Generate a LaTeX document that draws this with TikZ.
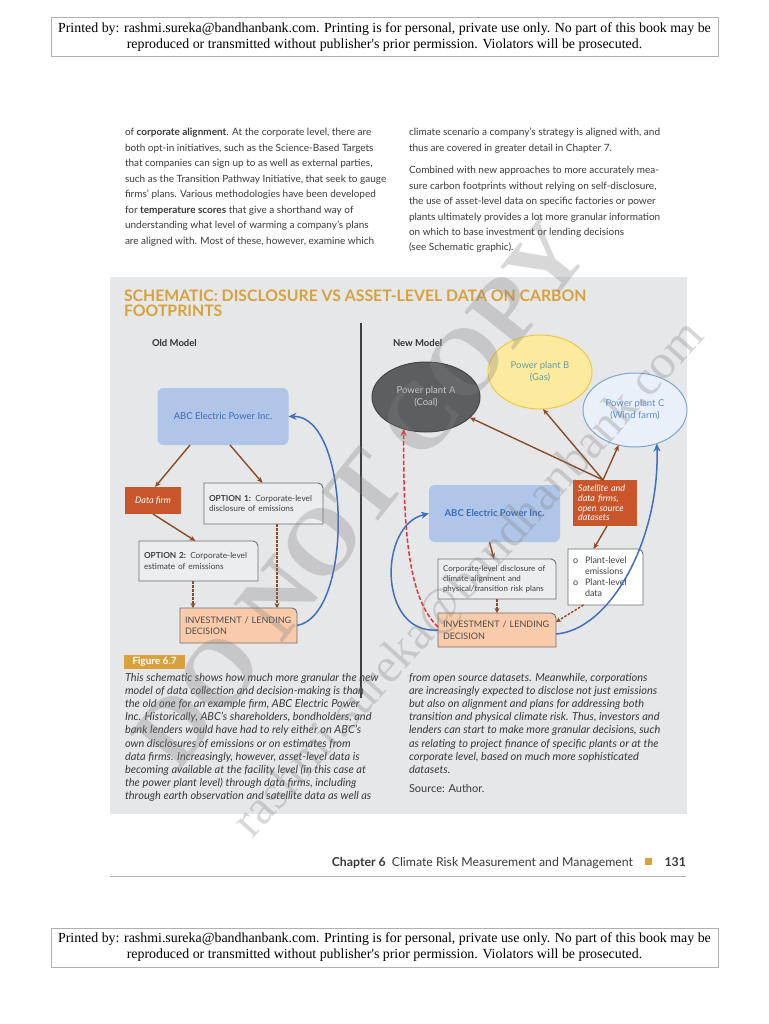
\documentclass[tikz,border=0pt]{standalone}
\usepackage{fontspec}
\setmainfont{Lato}
\newfontfamily\timesfont{Liberation Serif}
\usetikzlibrary{arrows.meta,shapes.geometric,calc}
\definecolor{panel}{HTML}{E6E7E9}
\definecolor{gold}{HTML}{D9A13B}
\definecolor{abcfill}{HTML}{AFC6E9}
\definecolor{abctext}{HTML}{3D6BB3}
\definecolor{arrbrown}{HTML}{8C4A26}
\definecolor{orangebox}{HTML}{C9562B}
\definecolor{peach}{HTML}{F9CBAA}
\definecolor{cardedge}{HTML}{6D6E70}
\definecolor{cardfill}{HTML}{ECEDEF}
\definecolor{coal}{HTML}{5D5E60}
\definecolor{coaledge}{HTML}{444547}
\definecolor{coaltext}{HTML}{C9C9C9}
\definecolor{gasfill}{HTML}{FCEB9E}
\definecolor{gasedge}{HTML}{EDC94A}
\definecolor{gastext}{HTML}{6B9C9A}
\definecolor{windfill}{HTML}{E9F0FA}
\definecolor{windedge}{HTML}{7FA4D8}
\definecolor{windtext}{HTML}{5B8FD3}
\definecolor{curveblue}{HTML}{3F6FBF}
\definecolor{reddash}{HTML}{E8343A}
\definecolor{bodytext}{HTML}{3A3A3A}
\definecolor{hdredge}{HTML}{B0B0B0}
\pgfdeclarelayer{bg}
\pgfdeclarelayer{cards}
\pgfsetlayers{bg,cards,main}
\newcommand\cardoutline[2]{%
  \begin{pgfonlayer}{cards}
    \filldraw[fill=#2,draw=cardedge,line width=0.9pt]
      (#1.south west) -- (#1.north west) -- ([xshift=-5pt]#1.north east)
      arc[start angle=90,end angle=0,radius=5pt] -- (#1.south east) -- cycle;
  \end{pgfonlayer}}
\begin{document}
\begin{tikzpicture}[x=1pt,y=-1pt,
 every node/.style={inner sep=0pt,outer sep=0pt},
 hdr/.style={draw=hdredge,line width=0.8pt,minimum width=667pt,minimum height=39pt,align=center,font=\timesfont\fontsize{13.9}{16}\selectfont,text=black},
 bodyline/.style={anchor=base west,font=\fontsize{10}{12}\selectfont,text=bodytext},
 capline/.style={anchor=base west,font=\fontsize{11}{12}\selectfont\itshape,text=bodytext},
 titleline/.style={anchor=base west,font=\fontsize{15.8}{17}\selectfont\bfseries,text=gold},
 modellabel/.style={anchor=base west,font=\fontsize{9.5}{11}\selectfont\bfseries,text=black!80},
 abcbox/.style={fill=abcfill,rounded corners=6pt,minimum width=131pt,minimum height=57pt,font=\fontsize{9.5}{11}\selectfont,text=abctext},
 orbox/.style={fill=orangebox,text=white,font=\fontsize{9}{9.7}\selectfont\itshape},
 cardtext/.style={align=left,inner xsep=5pt,font=\fontsize{8.3}{10.5}\selectfont,text=black!75},
 invtext/.style={align=left,inner xsep=5pt,font=\fontsize{9}{11.5}\selectfont,text=black!70},
 brarrow/.style={draw=arrbrown,line width=1.4pt,-{Stealth[length=6pt,width=5pt]}},
 dasharrow/.style={draw=arrbrown,line width=1.4pt,dash pattern=on 2.5pt off 1.5pt,-{Stealth[length=5pt,width=5pt]}},
 bluecurve/.style={draw=curveblue,line width=1.5pt,-{Stealth[length=8pt,width=7pt]}},
 plant/.style={ellipse,line width=1pt,align=center,font=\fontsize{9.5}{12}\selectfont},
 wmark/.style={text=gray,text opacity=0.3}
]
\begin{pgfonlayer}{bg}
  \fill[white] (0,0) rectangle (768,1024);
  \fill[panel] (110,277) rectangle (687,814);
\end{pgfonlayer}
\useasboundingbox (0,0) rectangle (768,1024);

% header / footer boxes
\node[hdr] (hdrtop) at (384.5,37) {Printed by: rashmi.sureka@bandhanbank.com. Printing is for personal, private use only. No part of this book may be\\reproduced or transmitted without publisher's prior permission. Violators will be prosecuted.};
\node[hdr] (hdrbot) at (384.5,947.5) {Printed by: rashmi.sureka@bandhanbank.com. Printing is for personal, private use only. No part of this book may be\\reproduced or transmitted without publisher's prior permission. Violators will be prosecuted.};

% body text
\foreach \t [count=\i from 0] in {{of \textbf{corporate alignment}. At the corporate level, there are},{both opt-in initiatives, such as the Science-Based Targets},{that companies can sign up to as well as external parties,},{such as the Transition Pathway Initiative, that seek to gauge},{firms’ plans. Various methodologies have been developed},{for \textbf{temperature scores} that give a shorthand way of},{understanding what level of warming a company’s plans},{are aligned with. Most of these, however, examine which}}
  \node[bodyline] (bl\i) at (125,{136+15.5*\i}) {\t};
\node[bodyline] (br0) at (409,136) {climate scenario a company’s strategy is aligned with, and};
\node[bodyline] (br1) at (409,151.5) {thus are covered in greater detail in Chapter 7.};
\foreach \t [count=\i from 2] in {{Combined with new approaches to more accurately mea-},{sure carbon footprints without relying on self-disclosure,},{the use of asset-level data on specific factories or power},{plants ultimately provides a lot more granular information},{on which to base investment or lending decisions},{(see Schematic graphic).}}
  \node[bodyline] (br\i) at (409,{174+15.4*(\i-2)}) {\t};

% title and labels
\node[titleline] (t1) at (124,301) {SCHEMATIC: DISCLOSURE VS ASSET-LEVEL DATA ON CARBON};
\node[titleline] (t2) at (124,316.5) {FOOTPRINTS};
\node[modellabel] (oldm) at (152,346) {Old Model};
\node[modellabel] (newm) at (393,346) {New Model};
\draw[line width=1.6pt,black!75] (361,323) -- (361,698);

% ---------- old model ----------
\node[abcbox] (abc1) at (223,416.5) {ABC Electric Power Inc.};
\node[orbox,minimum width=56pt,minimum height=27pt] (df) at (153,500.5) {Data firm};
\node[cardtext,text width=109pt,minimum height=41pt] (op1) at (263.5,503.5) {\textbf{OPTION 1:} Corporate-level\\disclosure of emissions};
\node[cardtext,text width=109pt,minimum height=40pt] (op2) at (198.5,561) {\textbf{OPTION 2:} Corporate-level\\estimate of emissions};
\node[invtext,text width=107pt,minimum height=35pt] (inv1) at (238.5,625.5) {INVESTMENT / LENDING\\DECISION};
\cardoutline{op1}{cardfill}
\cardoutline{op2}{cardfill}
\cardoutline{inv1}{peach}
\coordinate (xa) at (193,0);
\coordinate (xb) at (277,0);
\draw[brarrow] ([xshift=-33pt]abc1.south) -- ([xshift=2pt]df.north);
\draw[brarrow] ([xshift=7pt]abc1.south) -- ([xshift=-1pt]op1.north);
\draw[brarrow] (df.south) -- ([xshift=-3pt]op2.north);
\draw[dasharrow] (op2.south -| xa) -- (inv1.north -| xa);
\draw[dasharrow] (op1.south -| xb) -- (inv1.north -| xb);
\draw[bluecurve] (inv1.east) .. controls (355,615) and (350,415) .. (abc1.east);

% ---------- new model ----------
\node[plant,fill=coal,draw=coaledge,text=coaltext,minimum width=108pt,minimum height=70pt] (ppa) at (426,397) {Power plant A\\(Coal)};
\node[plant,fill=gasfill,draw=gasedge,text=gastext,minimum width=104pt,minimum height=74pt] (ppb) at (540,372) {Power plant B\\(Gas)};
\node[plant,fill=windfill,draw=windedge,text=windtext,minimum width=104pt,minimum height=74pt] (ppc) at (635,410) {Power plant C\\(Wind farm)};
\node[orbox,align=left,inner xsep=5pt,text width=54pt,minimum height=46pt] (sat) at (605,503) {Satellite and\\data firms,\\open source\\datasets};
\node[abcbox,font=\fontsize{9.5}{11}\selectfont\bfseries] (abc2) at (494.5,513.5) {ABC Electric Power Inc.};
\node[cardtext,text width=108pt,minimum height=40pt,font=\fontsize{8}{10}\selectfont] (corp) at (497,579) {Corporate-level disclosure of\\climate alignment and\\physical/transition risk plans};
\node[invtext,text width=108pt,minimum height=34pt] (inv2) at (497,630) {INVESTMENT / LENDING\\DECISION};
\node[cardtext,text width=65pt,minimum height=56pt,font=\fontsize{9}{11}\selectfont] (pl) at (605.5,577) {\makebox[12pt][l]{o}Plant-level\\\hspace*{12pt}emissions\\\makebox[12pt][l]{o}Plant-level\\\hspace*{12pt}data};
\cardoutline{corp}{cardfill}
\cardoutline{inv2}{peach}
\cardoutline{pl}{white}
\draw[brarrow] ([xshift=-2pt]sat.north) -- (ppa);
\draw[brarrow] ([xshift=-2pt]sat.north) -- ([xshift=3pt]ppb.south);
\draw[brarrow] ([xshift=-2pt]sat.north) -- (ppc.245);
\draw[brarrow] ([xshift=2pt]sat.south) -- ([xshift=-12pt]pl.north);
\draw[brarrow] ([xshift=-5pt]abc2.south) -- ([xshift=-3pt]corp.north);
\draw[dasharrow] (corp.south) -- (inv2.north);
\draw[dasharrow] ([xshift=-22pt]pl.south) -- ([yshift=8pt]inv2.east);
\draw[draw=reddash,line width=1.5pt,dash pattern=on 4.5pt off 2pt,-{Stealth[length=7pt,width=6pt]}] ([yshift=3pt]inv2.west) .. controls (410,600) and (403,540) .. (ppa.235);
\draw[bluecurve] (inv2.west) .. controls (378,635) and (378,525) .. (abc2.west);
\draw[bluecurve] ([yshift=-4pt]inv2.east) .. controls (610,630) and (660,540) .. (ppc.303);

% figure label and caption
\node[fill=gold,minimum width=61pt,minimum height=14pt,text=white,font=\bfseries\fontsize{10}{12}\selectfont] (fig) at (154.5,662) {Figure 6.7};
\foreach \t [count=\i from 0] in {{This schematic shows how much more granular the new},{model of data collection and decision-making is than},{the old one for an example firm, ABC Electric Power},{Inc. Historically, ABC’s shareholders, bondholders, and},{bank lenders would have had to rely either on ABC’s},{own disclosures of emissions or on estimates from},{data firms. Increasingly, however, asset-level data is},{becoming available at the facility level (in this case at},{the power plant level) through data firms, including},{through earth observation and satellite data as well as}}
  \node[capline] (cl\i) at (125,{681+13.2*\i}) {\t};
\foreach \t [count=\i from 0] in {{from open source datasets. Meanwhile, corporations},{are increasingly expected to disclose not just emissions},{but also on alignment and plans for addressing both},{transition and physical climate risk. Thus, investors and},{lenders can start to make more granular decisions, such},{as relating to project finance of specific plants or at the},{corporate level, based on much more sophisticated},{datasets.}}
  \node[capline] (cr\i) at (409,{681+13.2*\i}) {\t};
\node[bodyline,font=\fontsize{11}{12}\selectfont] (src) at (409,792) {Source: Author.};

% running footer
\node[anchor=base east,font=\fontsize{12.3}{14}\selectfont,text=bodytext] (chap) at (633,866) {\textbf{Chapter 6}\hspace{6pt}Climate Risk Measurement and Management};
\node[fill=gold,minimum size=7pt] (sq) at (648.5,861.5) {};
\node[anchor=base east,font=\bfseries\fontsize{12.3}{14}\selectfont,text=bodytext] (pg) at (686,866) {131};
\draw[gray!60,line width=0.6pt] (110,876) -- (686,876);

% watermarks
\node[wmark,rotate=51.6,font=\timesfont\bfseries\fontsize{95}{95}\selectfont] (wm1) at (360,495) {DO NOT COPY};
\node[wmark,rotate=48,font=\timesfont\fontsize{49}{49}\selectfont] (wm2) at (470,580) {rashmi.sureka@bandhanbank.com};
\end{tikzpicture}
\end{document}
